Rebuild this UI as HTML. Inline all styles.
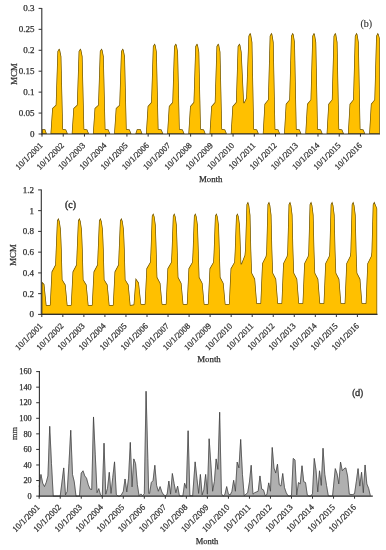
<!DOCTYPE html>
<html><head><meta charset="utf-8"><title>Charts</title>
<style>html,body{margin:0;padding:0;background:#fff}svg{display:block}</style>
</head><body>
<svg width="386" height="550" viewBox="0 0 386 550">
<rect width="386" height="550" fill="#fff"/>
<g font-family='"Liberation Serif", serif' stroke="#2e2e2e" stroke-width="0.25" paint-order="stroke">
<clipPath id="k1"><polygon points="42.00,134.00 42.00,129.19 45.20,129.19 46.90,134.00 50.50,134.00 52.20,108.25 55.70,104.90 57.45,51.15 59.15,48.59 60.05,50.04 61.35,56.53 63.05,129.06 66.05,129.60 67.90,134.00 71.70,134.00 73.40,108.25 76.90,104.90 78.65,51.15 80.35,48.59 81.25,50.04 82.55,56.53 84.25,129.06 87.25,129.60 89.10,134.00 92.90,134.00 94.60,108.25 98.10,104.90 99.85,51.15 101.55,48.59 102.45,50.04 103.75,56.53 105.45,129.06 108.45,129.60 110.30,134.00 114.10,134.00 115.80,108.25 119.30,104.90 121.05,51.15 122.75,48.59 123.65,50.04 124.95,56.53 126.65,129.06 129.65,129.60 131.50,134.00 135.30,134.00 136.90,129.19 140.70,129.19 142.50,134.00 145.95,134.00 147.65,106.37 151.15,102.18 152.90,46.28 154.60,43.57 155.50,45.11 156.80,51.98 158.50,129.06 161.50,129.60 163.35,134.00 167.15,134.00 168.85,106.37 172.35,102.18 174.10,46.28 175.80,43.57 176.70,45.11 178.00,51.98 179.70,129.06 182.70,129.60 184.55,134.00 188.35,134.00 190.05,106.37 193.55,102.18 195.30,46.28 197.00,43.57 197.90,45.11 199.20,51.98 200.90,129.06 203.90,129.60 205.75,134.00 209.55,134.00 211.25,106.37 214.75,102.18 216.50,46.28 218.20,43.57 219.10,45.11 220.40,51.98 222.10,129.06 225.10,129.60 226.95,134.00 230.75,134.00 232.45,106.37 235.95,102.18 237.70,46.28 239.40,43.57 240.30,45.11 241.60,51.98 244.00,102.60 246.20,97.99 248.45,35.88 250.15,32.85 251.05,34.57 252.35,42.26 254.05,129.06 257.05,129.60 258.90,134.00 262.78,134.00 264.48,104.07 267.98,99.67 269.73,35.88 271.43,32.85 272.33,34.57 273.63,42.26 275.33,129.06 278.33,129.60 280.18,134.00 284.06,134.00 285.76,104.07 289.26,99.67 291.01,35.88 292.71,32.85 293.61,34.57 294.91,42.26 296.61,129.06 299.61,129.60 301.46,134.00 305.34,134.00 307.04,104.07 310.54,99.67 312.29,35.88 313.99,32.85 314.89,34.57 316.19,42.26 317.89,129.06 320.89,129.60 322.74,134.00 326.62,134.00 328.32,104.07 331.82,99.67 333.57,35.88 335.27,32.85 336.17,34.57 337.47,42.26 339.17,129.06 342.17,129.60 344.02,134.00 347.90,134.00 349.60,104.07 353.10,99.67 354.85,35.88 356.55,32.85 357.45,34.57 358.75,42.26 360.45,129.06 363.45,129.60 365.30,134.00 369.18,134.00 370.88,104.07 374.38,99.67 376.13,35.88 377.83,32.85 378.73,34.57 379.75,38.13 379.75,134.00"/></clipPath>
<polygon points="42.00,134.00 42.00,129.19 45.20,129.19 46.90,134.00 50.50,134.00 52.20,108.25 55.70,104.90 57.45,51.15 59.15,48.59 60.05,50.04 61.35,56.53 63.05,129.06 66.05,129.60 67.90,134.00 71.70,134.00 73.40,108.25 76.90,104.90 78.65,51.15 80.35,48.59 81.25,50.04 82.55,56.53 84.25,129.06 87.25,129.60 89.10,134.00 92.90,134.00 94.60,108.25 98.10,104.90 99.85,51.15 101.55,48.59 102.45,50.04 103.75,56.53 105.45,129.06 108.45,129.60 110.30,134.00 114.10,134.00 115.80,108.25 119.30,104.90 121.05,51.15 122.75,48.59 123.65,50.04 124.95,56.53 126.65,129.06 129.65,129.60 131.50,134.00 135.30,134.00 136.90,129.19 140.70,129.19 142.50,134.00 145.95,134.00 147.65,106.37 151.15,102.18 152.90,46.28 154.60,43.57 155.50,45.11 156.80,51.98 158.50,129.06 161.50,129.60 163.35,134.00 167.15,134.00 168.85,106.37 172.35,102.18 174.10,46.28 175.80,43.57 176.70,45.11 178.00,51.98 179.70,129.06 182.70,129.60 184.55,134.00 188.35,134.00 190.05,106.37 193.55,102.18 195.30,46.28 197.00,43.57 197.90,45.11 199.20,51.98 200.90,129.06 203.90,129.60 205.75,134.00 209.55,134.00 211.25,106.37 214.75,102.18 216.50,46.28 218.20,43.57 219.10,45.11 220.40,51.98 222.10,129.06 225.10,129.60 226.95,134.00 230.75,134.00 232.45,106.37 235.95,102.18 237.70,46.28 239.40,43.57 240.30,45.11 241.60,51.98 244.00,102.60 246.20,97.99 248.45,35.88 250.15,32.85 251.05,34.57 252.35,42.26 254.05,129.06 257.05,129.60 258.90,134.00 262.78,134.00 264.48,104.07 267.98,99.67 269.73,35.88 271.43,32.85 272.33,34.57 273.63,42.26 275.33,129.06 278.33,129.60 280.18,134.00 284.06,134.00 285.76,104.07 289.26,99.67 291.01,35.88 292.71,32.85 293.61,34.57 294.91,42.26 296.61,129.06 299.61,129.60 301.46,134.00 305.34,134.00 307.04,104.07 310.54,99.67 312.29,35.88 313.99,32.85 314.89,34.57 316.19,42.26 317.89,129.06 320.89,129.60 322.74,134.00 326.62,134.00 328.32,104.07 331.82,99.67 333.57,35.88 335.27,32.85 336.17,34.57 337.47,42.26 339.17,129.06 342.17,129.60 344.02,134.00 347.90,134.00 349.60,104.07 353.10,99.67 354.85,35.88 356.55,32.85 357.45,34.57 358.75,42.26 360.45,129.06 363.45,129.60 365.30,134.00 369.18,134.00 370.88,104.07 374.38,99.67 376.13,35.88 377.83,32.85 378.73,34.57 379.75,38.13 379.75,134.00" fill="#FFC000" stroke="#6b5510" stroke-width="1.4" stroke-linejoin="round" paint-order="normal" clip-path="url(#k1)"/>
<path d="M41.80 7.90 V134.50" stroke="#303030" stroke-width="1.1" fill="none"/>
<path d="M41.50 134.00 H380.05" stroke="#303030" stroke-width="1.1" fill="none"/>
<path d="M38.60 134.00H41.80M38.60 113.07H41.80M38.60 92.13H41.80M38.60 71.20H41.80M38.60 50.27H41.80M38.60 29.33H41.80M38.60 8.40H41.80M42.00 134.00V136.60M63.23 134.00V136.60M84.46 134.00V136.60M105.69 134.00V136.60M126.92 134.00V136.60M148.15 134.00V136.60M169.38 134.00V136.60M190.61 134.00V136.60M211.84 134.00V136.60M233.07 134.00V136.60M254.30 134.00V136.60M275.53 134.00V136.60M296.76 134.00V136.60M317.99 134.00V136.60M339.22 134.00V136.60M360.45 134.00V136.60" stroke="#303030" stroke-width="1" fill="none"/>
<text x="34.40" y="136.97" font-size="9" text-anchor="end" fill="#2e2e2e">0</text>
<text x="34.40" y="116.04" font-size="9" text-anchor="end" fill="#2e2e2e">0.05</text>
<text x="34.40" y="95.10" font-size="9" text-anchor="end" fill="#2e2e2e">0.1</text>
<text x="34.40" y="74.17" font-size="9" text-anchor="end" fill="#2e2e2e">0.15</text>
<text x="34.40" y="53.24" font-size="9" text-anchor="end" fill="#2e2e2e">0.2</text>
<text x="34.40" y="32.30" font-size="9" text-anchor="end" fill="#2e2e2e">0.25</text>
<text x="34.40" y="11.37" font-size="9" text-anchor="end" fill="#2e2e2e">0.3</text>
<text transform="translate(43.20 145.90) rotate(-45)" font-size="8.5" text-anchor="end" fill="#2e2e2e">10/1/2001</text>
<text transform="translate(64.48 145.90) rotate(-45)" font-size="8.5" text-anchor="end" fill="#2e2e2e">10/1/2002</text>
<text transform="translate(85.77 145.90) rotate(-45)" font-size="8.5" text-anchor="end" fill="#2e2e2e">10/1/2003</text>
<text transform="translate(107.06 145.90) rotate(-45)" font-size="8.5" text-anchor="end" fill="#2e2e2e">10/1/2004</text>
<text transform="translate(128.34 145.90) rotate(-45)" font-size="8.5" text-anchor="end" fill="#2e2e2e">10/1/2005</text>
<text transform="translate(149.62 145.90) rotate(-45)" font-size="8.5" text-anchor="end" fill="#2e2e2e">10/1/2006</text>
<text transform="translate(170.91 145.90) rotate(-45)" font-size="8.5" text-anchor="end" fill="#2e2e2e">10/1/2007</text>
<text transform="translate(192.19 145.90) rotate(-45)" font-size="8.5" text-anchor="end" fill="#2e2e2e">10/1/2008</text>
<text transform="translate(213.48 145.90) rotate(-45)" font-size="8.5" text-anchor="end" fill="#2e2e2e">10/1/2009</text>
<text transform="translate(234.76 145.90) rotate(-45)" font-size="8.5" text-anchor="end" fill="#2e2e2e">10/1/2010</text>
<text transform="translate(256.05 145.90) rotate(-45)" font-size="8.5" text-anchor="end" fill="#2e2e2e">10/1/2011</text>
<text transform="translate(277.33 145.90) rotate(-45)" font-size="8.5" text-anchor="end" fill="#2e2e2e">10/1/2012</text>
<text transform="translate(298.62 145.90) rotate(-45)" font-size="8.5" text-anchor="end" fill="#2e2e2e">10/1/2013</text>
<text transform="translate(319.90 145.90) rotate(-45)" font-size="8.5" text-anchor="end" fill="#2e2e2e">10/1/2014</text>
<text transform="translate(341.19 145.90) rotate(-45)" font-size="8.5" text-anchor="end" fill="#2e2e2e">10/1/2015</text>
<text transform="translate(362.47 145.90) rotate(-45)" font-size="8.5" text-anchor="end" fill="#2e2e2e">10/1/2016</text>
<text x="210.7" y="182.2" font-size="8.8" text-anchor="middle" fill="#2e2e2e">Month</text>
<text transform="translate(16.6 73.9) rotate(-90)" font-size="8.8" text-anchor="middle" fill="#2e2e2e">MCM</text>
<text x="366.3" y="26.7" font-size="10" text-anchor="middle" fill="#2e2e2e" stroke-width="0.1">(b)</text>
<clipPath id="k2"><polygon points="41.80,314.40 41.80,281.51 44.40,284.31 46.50,305.06 49.90,305.06 51.55,271.86 55.20,264.81 55.70,252.15 57.00,220.62 58.50,218.12 59.70,221.49 60.90,229.67 61.70,250.07 62.50,279.64 65.60,284.83 67.50,305.06 70.90,305.06 72.55,271.86 76.20,264.81 76.70,252.15 78.00,220.62 79.50,218.12 80.70,221.49 81.90,229.67 82.70,250.07 83.50,279.64 86.60,284.83 88.50,305.06 91.90,305.06 93.55,271.86 97.20,264.81 97.70,252.15 99.00,220.62 100.50,218.12 101.70,221.49 102.90,229.67 103.70,250.07 104.50,279.64 107.60,284.83 109.50,305.06 112.90,305.06 114.55,271.86 118.20,264.81 118.70,252.15 120.00,220.62 121.50,218.12 122.70,221.49 123.90,229.67 124.70,250.07 125.50,279.64 128.60,284.83 130.50,305.06 133.60,304.54 135.60,278.09 138.90,282.76 141.20,304.02 144.75,304.02 146.40,268.54 150.05,262.21 150.55,252.15 151.85,215.77 153.35,213.14 154.55,216.68 155.75,225.29 156.55,250.07 157.35,277.36 160.45,283.27 162.35,304.02 165.80,304.02 167.45,268.54 171.10,262.21 171.60,252.15 172.90,215.77 174.40,213.14 175.60,216.68 176.80,225.29 177.60,250.07 178.40,277.36 181.50,283.27 183.40,304.02 186.85,304.02 188.50,268.54 192.15,262.21 192.65,252.15 193.95,215.77 195.45,213.14 196.65,216.68 197.85,225.29 198.65,250.07 199.45,277.36 202.55,283.27 204.45,304.02 207.90,304.02 209.55,268.54 213.20,262.21 213.70,252.15 215.00,215.77 216.50,213.14 217.70,216.68 218.90,225.29 219.70,250.07 220.50,277.36 223.60,283.27 225.50,304.02 228.95,304.02 230.60,268.54 234.25,262.21 234.75,252.15 236.05,215.77 237.55,213.14 238.75,216.68 239.95,225.29 241.30,263.87 244.60,255.26 245.20,248.00 246.50,204.45 248.00,201.52 249.20,205.47 250.40,215.07 251.20,250.07 252.00,272.90 255.10,279.12 257.00,303.19 260.45,303.19 262.10,263.56 265.75,256.30 266.25,252.15 267.55,204.45 269.05,201.52 270.25,205.47 271.45,215.07 272.25,250.07 273.05,272.90 276.15,279.12 278.05,303.19 281.50,303.19 283.15,263.56 286.80,256.30 287.30,252.15 288.60,204.45 290.10,201.52 291.30,205.47 292.50,215.07 293.30,250.07 294.10,272.90 297.20,279.12 299.10,303.19 302.55,303.19 304.20,263.56 307.85,256.30 308.35,252.15 309.65,204.45 311.15,201.52 312.35,205.47 313.55,215.07 314.35,250.07 315.15,272.90 318.25,279.12 320.15,303.19 323.60,303.19 325.25,263.56 328.90,256.30 329.40,252.15 330.70,204.45 332.20,201.52 333.40,205.47 334.60,215.07 335.40,250.07 336.20,272.90 339.30,279.12 341.20,303.19 344.65,303.19 346.30,263.56 349.95,256.30 350.45,252.15 351.75,204.45 353.25,201.52 354.45,205.47 355.65,215.07 356.45,250.07 357.25,272.90 360.35,279.12 362.25,303.19 365.70,303.19 367.35,263.56 371.00,256.30 371.50,252.15 372.80,204.45 374.30,201.52 377.20,208.57 377.20,314.40"/></clipPath>
<polygon points="41.80,314.40 41.80,281.51 44.40,284.31 46.50,305.06 49.90,305.06 51.55,271.86 55.20,264.81 55.70,252.15 57.00,220.62 58.50,218.12 59.70,221.49 60.90,229.67 61.70,250.07 62.50,279.64 65.60,284.83 67.50,305.06 70.90,305.06 72.55,271.86 76.20,264.81 76.70,252.15 78.00,220.62 79.50,218.12 80.70,221.49 81.90,229.67 82.70,250.07 83.50,279.64 86.60,284.83 88.50,305.06 91.90,305.06 93.55,271.86 97.20,264.81 97.70,252.15 99.00,220.62 100.50,218.12 101.70,221.49 102.90,229.67 103.70,250.07 104.50,279.64 107.60,284.83 109.50,305.06 112.90,305.06 114.55,271.86 118.20,264.81 118.70,252.15 120.00,220.62 121.50,218.12 122.70,221.49 123.90,229.67 124.70,250.07 125.50,279.64 128.60,284.83 130.50,305.06 133.60,304.54 135.60,278.09 138.90,282.76 141.20,304.02 144.75,304.02 146.40,268.54 150.05,262.21 150.55,252.15 151.85,215.77 153.35,213.14 154.55,216.68 155.75,225.29 156.55,250.07 157.35,277.36 160.45,283.27 162.35,304.02 165.80,304.02 167.45,268.54 171.10,262.21 171.60,252.15 172.90,215.77 174.40,213.14 175.60,216.68 176.80,225.29 177.60,250.07 178.40,277.36 181.50,283.27 183.40,304.02 186.85,304.02 188.50,268.54 192.15,262.21 192.65,252.15 193.95,215.77 195.45,213.14 196.65,216.68 197.85,225.29 198.65,250.07 199.45,277.36 202.55,283.27 204.45,304.02 207.90,304.02 209.55,268.54 213.20,262.21 213.70,252.15 215.00,215.77 216.50,213.14 217.70,216.68 218.90,225.29 219.70,250.07 220.50,277.36 223.60,283.27 225.50,304.02 228.95,304.02 230.60,268.54 234.25,262.21 234.75,252.15 236.05,215.77 237.55,213.14 238.75,216.68 239.95,225.29 241.30,263.87 244.60,255.26 245.20,248.00 246.50,204.45 248.00,201.52 249.20,205.47 250.40,215.07 251.20,250.07 252.00,272.90 255.10,279.12 257.00,303.19 260.45,303.19 262.10,263.56 265.75,256.30 266.25,252.15 267.55,204.45 269.05,201.52 270.25,205.47 271.45,215.07 272.25,250.07 273.05,272.90 276.15,279.12 278.05,303.19 281.50,303.19 283.15,263.56 286.80,256.30 287.30,252.15 288.60,204.45 290.10,201.52 291.30,205.47 292.50,215.07 293.30,250.07 294.10,272.90 297.20,279.12 299.10,303.19 302.55,303.19 304.20,263.56 307.85,256.30 308.35,252.15 309.65,204.45 311.15,201.52 312.35,205.47 313.55,215.07 314.35,250.07 315.15,272.90 318.25,279.12 320.15,303.19 323.60,303.19 325.25,263.56 328.90,256.30 329.40,252.15 330.70,204.45 332.20,201.52 333.40,205.47 334.60,215.07 335.40,250.07 336.20,272.90 339.30,279.12 341.20,303.19 344.65,303.19 346.30,263.56 349.95,256.30 350.45,252.15 351.75,204.45 353.25,201.52 354.45,205.47 355.65,215.07 356.45,250.07 357.25,272.90 360.35,279.12 362.25,303.19 365.70,303.19 367.35,263.56 371.00,256.30 371.50,252.15 372.80,204.45 374.30,201.52 377.20,208.57 377.20,314.40" fill="#FFC000" stroke="#6b5510" stroke-width="1.4" stroke-linejoin="round" paint-order="normal" clip-path="url(#k2)"/>
<path d="M41.30 189.40 V314.90" stroke="#303030" stroke-width="1.1" fill="none"/>
<path d="M41.30 314.40 H377.50" stroke="#303030" stroke-width="1.1" fill="none"/>
<path d="M38.10 314.40H41.30M38.10 293.65H41.30M38.10 272.90H41.30M38.10 252.15H41.30M38.10 231.40H41.30M38.10 210.65H41.30M38.10 189.90H41.30M41.80 314.40V317.00M62.84 314.40V317.00M83.88 314.40V317.00M104.92 314.40V317.00M125.96 314.40V317.00M147.00 314.40V317.00M168.04 314.40V317.00M189.08 314.40V317.00M210.12 314.40V317.00M231.16 314.40V317.00M252.20 314.40V317.00M273.24 314.40V317.00M294.28 314.40V317.00M315.32 314.40V317.00M336.36 314.40V317.00M357.40 314.40V317.00" stroke="#303030" stroke-width="1" fill="none"/>
<text x="34.00" y="317.37" font-size="9" text-anchor="end" fill="#2e2e2e">0</text>
<text x="34.00" y="296.62" font-size="9" text-anchor="end" fill="#2e2e2e">0.2</text>
<text x="34.00" y="275.87" font-size="9" text-anchor="end" fill="#2e2e2e">0.4</text>
<text x="34.00" y="255.12" font-size="9" text-anchor="end" fill="#2e2e2e">0.6</text>
<text x="34.00" y="234.37" font-size="9" text-anchor="end" fill="#2e2e2e">0.8</text>
<text x="34.00" y="213.62" font-size="9" text-anchor="end" fill="#2e2e2e">1</text>
<text x="34.00" y="192.87" font-size="9" text-anchor="end" fill="#2e2e2e">1.2</text>
<text transform="translate(43.00 326.40) rotate(-45)" font-size="8.5" text-anchor="end" fill="#2e2e2e">10/1/2001</text>
<text transform="translate(64.09 326.40) rotate(-45)" font-size="8.5" text-anchor="end" fill="#2e2e2e">10/1/2002</text>
<text transform="translate(85.19 326.40) rotate(-45)" font-size="8.5" text-anchor="end" fill="#2e2e2e">10/1/2003</text>
<text transform="translate(106.28 326.40) rotate(-45)" font-size="8.5" text-anchor="end" fill="#2e2e2e">10/1/2004</text>
<text transform="translate(127.38 326.40) rotate(-45)" font-size="8.5" text-anchor="end" fill="#2e2e2e">10/1/2005</text>
<text transform="translate(148.47 326.40) rotate(-45)" font-size="8.5" text-anchor="end" fill="#2e2e2e">10/1/2006</text>
<text transform="translate(169.57 326.40) rotate(-45)" font-size="8.5" text-anchor="end" fill="#2e2e2e">10/1/2007</text>
<text transform="translate(190.66 326.40) rotate(-45)" font-size="8.5" text-anchor="end" fill="#2e2e2e">10/1/2008</text>
<text transform="translate(211.76 326.40) rotate(-45)" font-size="8.5" text-anchor="end" fill="#2e2e2e">10/1/2009</text>
<text transform="translate(232.85 326.40) rotate(-45)" font-size="8.5" text-anchor="end" fill="#2e2e2e">10/1/2010</text>
<text transform="translate(253.95 326.40) rotate(-45)" font-size="8.5" text-anchor="end" fill="#2e2e2e">10/1/2011</text>
<text transform="translate(275.04 326.40) rotate(-45)" font-size="8.5" text-anchor="end" fill="#2e2e2e">10/1/2012</text>
<text transform="translate(296.14 326.40) rotate(-45)" font-size="8.5" text-anchor="end" fill="#2e2e2e">10/1/2013</text>
<text transform="translate(317.24 326.40) rotate(-45)" font-size="8.5" text-anchor="end" fill="#2e2e2e">10/1/2014</text>
<text transform="translate(338.33 326.40) rotate(-45)" font-size="8.5" text-anchor="end" fill="#2e2e2e">10/1/2015</text>
<text transform="translate(359.42 326.40) rotate(-45)" font-size="8.5" text-anchor="end" fill="#2e2e2e">10/1/2016</text>
<text x="209" y="361.6" font-size="8.8" text-anchor="middle" fill="#2e2e2e">Month</text>
<text transform="translate(16 255) rotate(-90)" font-size="8.8" text-anchor="middle" fill="#2e2e2e">MCM</text>
<text x="70.5" y="207.6" font-size="9.8" text-anchor="middle" fill="#2e2e2e" stroke-width="0.4">(c)</text>
<polygon points="39.20,496.10 39.20,486.76 40.95,474.47 42.70,483.26 44.46,486.61 46.21,482.56 47.96,475.95 49.71,426.30 51.46,463.42 53.22,496.10 54.97,496.10 56.72,496.10 58.47,496.10 60.22,496.10 61.98,482.09 63.73,467.93 65.48,494.93 67.23,491.43 68.98,463.42 70.74,430.27 72.49,474.47 74.24,481.78 75.99,496.10 77.74,496.10 79.50,496.10 81.25,473.07 83.00,470.81 84.75,475.95 86.50,478.20 88.26,484.74 90.01,489.10 91.76,489.56 93.51,416.96 95.26,454.86 97.02,492.75 98.77,488.63 100.52,494.93 102.27,496.10 104.02,443.19 105.78,494.23 107.53,488.32 109.28,472.29 111.03,493.45 112.78,477.43 114.54,461.86 116.29,494.54 118.04,496.10 119.79,496.10 121.54,494.54 123.30,491.43 125.05,478.98 126.80,491.98 128.55,478.20 130.30,442.41 132.06,486.92 133.81,458.91 135.56,463.57 137.31,484.43 139.06,495.71 140.82,493.92 142.57,495.71 144.32,493.77 146.07,391.29 147.82,458.75 148.70,493.45 149.58,493.45 151.33,482.56 153.08,480.54 154.83,465.29 156.58,485.44 158.34,491.28 160.09,486.61 161.84,491.98 163.59,494.93 165.34,495.71 167.10,494.54 168.85,481.08 170.60,494.23 172.35,473.53 174.10,483.65 175.86,492.75 177.61,486.14 179.36,495.71 181.11,496.10 182.86,496.10 184.62,483.26 186.37,488.32 188.12,430.74 189.87,495.71 191.62,495.71 192.68,495.87 195.13,461.86 196.88,478.20 198.63,493.45 200.38,474.47 202.14,494.93 203.89,489.88 205.64,474.47 207.39,494.23 209.14,438.75 210.90,464.98 212.65,491.28 214.40,481.32 216.15,458.91 217.90,469.41 219.66,412.22 221.41,493.77 223.16,496.10 224.91,494.54 226.66,486.61 228.42,494.23 230.17,494.93 231.92,491.43 233.67,480.30 235.42,491.28 237.18,462.10 238.93,467.93 240.68,439.45 242.43,474.31 244.18,495.71 245.94,494.23 247.69,492.75 249.44,482.09 251.19,465.29 252.94,494.23 254.70,492.75 256.45,491.98 258.20,491.28 259.95,475.95 261.70,489.10 263.46,489.88 265.21,495.71 266.96,494.54 268.71,482.87 270.46,491.28 272.22,447.47 273.97,468.09 275.72,473.07 277.47,464.20 279.22,484.74 280.98,486.14 282.73,473.53 284.48,487.62 286.23,492.75 287.98,495.71 289.74,496.10 291.49,495.32 293.24,458.44 294.99,459.92 296.74,494.93 298.50,482.56 300.25,483.96 302.00,465.75 303.75,481.78 305.50,482.56 307.26,494.93 309.01,496.10 310.76,496.10 312.51,493.77 314.26,458.44 316.02,470.42 317.77,491.98 319.52,470.81 321.27,485.44 323.02,448.25 324.78,474.31 326.53,485.44 328.28,495.71 330.03,496.10 331.78,496.10 332.57,495.94 335.29,468.63 337.04,473.77 338.79,483.96 340.54,462.10 342.30,470.81 344.05,468.63 345.80,467.93 347.55,475.95 349.30,494.23 351.06,494.54 352.81,494.54 354.56,493.77 356.31,481.78 358.06,468.63 359.82,486.14 361.57,472.29 363.32,492.75 365.07,464.98 366.82,483.96 368.58,488.32 370.33,495.71 370.33,496.10" fill="#B0B0B0"/>
<polyline points="39.20,486.76 40.95,474.47 42.70,483.26 44.46,486.61 46.21,482.56 47.96,475.95 49.71,426.30 51.46,463.42 53.22,496.10 54.97,496.10 56.72,496.10 58.47,496.10 60.22,496.10 61.98,482.09 63.73,467.93 65.48,494.93 67.23,491.43 68.98,463.42 70.74,430.27 72.49,474.47 74.24,481.78 75.99,496.10 77.74,496.10 79.50,496.10 81.25,473.07 83.00,470.81 84.75,475.95 86.50,478.20 88.26,484.74 90.01,489.10 91.76,489.56 93.51,416.96 95.26,454.86 97.02,492.75 98.77,488.63 100.52,494.93 102.27,496.10 104.02,443.19 105.78,494.23 107.53,488.32 109.28,472.29 111.03,493.45 112.78,477.43 114.54,461.86 116.29,494.54 118.04,496.10 119.79,496.10 121.54,494.54 123.30,491.43 125.05,478.98 126.80,491.98 128.55,478.20 130.30,442.41 132.06,486.92 133.81,458.91 135.56,463.57 137.31,484.43 139.06,495.71 140.82,493.92 142.57,495.71 144.32,493.77 146.07,391.29 147.82,458.75 148.70,493.45 149.58,493.45 151.33,482.56 153.08,480.54 154.83,465.29 156.58,485.44 158.34,491.28 160.09,486.61 161.84,491.98 163.59,494.93 165.34,495.71 167.10,494.54 168.85,481.08 170.60,494.23 172.35,473.53 174.10,483.65 175.86,492.75 177.61,486.14 179.36,495.71 181.11,496.10 182.86,496.10 184.62,483.26 186.37,488.32 188.12,430.74 189.87,495.71 191.62,495.71 192.68,495.87 195.13,461.86 196.88,478.20 198.63,493.45 200.38,474.47 202.14,494.93 203.89,489.88 205.64,474.47 207.39,494.23 209.14,438.75 210.90,464.98 212.65,491.28 214.40,481.32 216.15,458.91 217.90,469.41 219.66,412.22 221.41,493.77 223.16,496.10 224.91,494.54 226.66,486.61 228.42,494.23 230.17,494.93 231.92,491.43 233.67,480.30 235.42,491.28 237.18,462.10 238.93,467.93 240.68,439.45 242.43,474.31 244.18,495.71 245.94,494.23 247.69,492.75 249.44,482.09 251.19,465.29 252.94,494.23 254.70,492.75 256.45,491.98 258.20,491.28 259.95,475.95 261.70,489.10 263.46,489.88 265.21,495.71 266.96,494.54 268.71,482.87 270.46,491.28 272.22,447.47 273.97,468.09 275.72,473.07 277.47,464.20 279.22,484.74 280.98,486.14 282.73,473.53 284.48,487.62 286.23,492.75 287.98,495.71 289.74,496.10 291.49,495.32 293.24,458.44 294.99,459.92 296.74,494.93 298.50,482.56 300.25,483.96 302.00,465.75 303.75,481.78 305.50,482.56 307.26,494.93 309.01,496.10 310.76,496.10 312.51,493.77 314.26,458.44 316.02,470.42 317.77,491.98 319.52,470.81 321.27,485.44 323.02,448.25 324.78,474.31 326.53,485.44 328.28,495.71 330.03,496.10 331.78,496.10 332.57,495.94 335.29,468.63 337.04,473.77 338.79,483.96 340.54,462.10 342.30,470.81 344.05,468.63 345.80,467.93 347.55,475.95 349.30,494.23 351.06,494.54 352.81,494.54 354.56,493.77 356.31,481.78 358.06,468.63 359.82,486.14 361.57,472.29 363.32,492.75 365.07,464.98 366.82,483.96 368.58,488.32 370.33,495.71" fill="none" stroke="#3d3d3d" stroke-width="0.72" stroke-linejoin="round"/>
<path d="M39.40 371.10 V496.60" stroke="#303030" stroke-width="1.1" fill="none"/>
<path d="M38.70 496.10 H372.80" stroke="#303030" stroke-width="1.1" fill="none"/>
<path d="M36.20 496.10H39.40M36.20 480.54H39.40M36.20 464.98H39.40M36.20 449.41H39.40M36.20 433.85H39.40M36.20 418.29H39.40M36.20 402.73H39.40M36.20 387.16H39.40M36.20 371.60H39.40M39.20 496.10V498.70M60.22 496.10V498.70M81.25 496.10V498.70M102.27 496.10V498.70M123.30 496.10V498.70M144.32 496.10V498.70M165.34 496.10V498.70M186.37 496.10V498.70M207.39 496.10V498.70M228.42 496.10V498.70M249.44 496.10V498.70M270.46 496.10V498.70M291.49 496.10V498.70M312.51 496.10V498.70M333.54 496.10V498.70M354.56 496.10V498.70" stroke="#303030" stroke-width="1" fill="none"/>
<text x="31.70" y="498.84" font-size="8.3" text-anchor="end" fill="#2e2e2e">0</text>
<text x="31.70" y="483.28" font-size="8.3" text-anchor="end" fill="#2e2e2e">20</text>
<text x="31.70" y="467.71" font-size="8.3" text-anchor="end" fill="#2e2e2e">40</text>
<text x="31.70" y="452.15" font-size="8.3" text-anchor="end" fill="#2e2e2e">60</text>
<text x="31.70" y="436.59" font-size="8.3" text-anchor="end" fill="#2e2e2e">80</text>
<text x="31.70" y="421.03" font-size="8.3" text-anchor="end" fill="#2e2e2e">100</text>
<text x="31.70" y="405.46" font-size="8.3" text-anchor="end" fill="#2e2e2e">120</text>
<text x="31.70" y="389.90" font-size="8.3" text-anchor="end" fill="#2e2e2e">140</text>
<text x="31.70" y="374.34" font-size="8.3" text-anchor="end" fill="#2e2e2e">160</text>
<text transform="translate(40.40 507.80) rotate(-45)" font-size="8.6" text-anchor="end" fill="#2e2e2e">10/1/2001</text>
<text transform="translate(61.48 507.80) rotate(-45)" font-size="8.6" text-anchor="end" fill="#2e2e2e">10/1/2002</text>
<text transform="translate(82.56 507.80) rotate(-45)" font-size="8.6" text-anchor="end" fill="#2e2e2e">10/1/2003</text>
<text transform="translate(103.64 507.80) rotate(-45)" font-size="8.6" text-anchor="end" fill="#2e2e2e">10/1/2004</text>
<text transform="translate(124.72 507.80) rotate(-45)" font-size="8.6" text-anchor="end" fill="#2e2e2e">10/1/2005</text>
<text transform="translate(145.80 507.80) rotate(-45)" font-size="8.6" text-anchor="end" fill="#2e2e2e">10/1/2006</text>
<text transform="translate(166.87 507.80) rotate(-45)" font-size="8.6" text-anchor="end" fill="#2e2e2e">10/1/2007</text>
<text transform="translate(187.95 507.80) rotate(-45)" font-size="8.6" text-anchor="end" fill="#2e2e2e">10/1/2008</text>
<text transform="translate(209.03 507.80) rotate(-45)" font-size="8.6" text-anchor="end" fill="#2e2e2e">10/1/2009</text>
<text transform="translate(230.11 507.80) rotate(-45)" font-size="8.6" text-anchor="end" fill="#2e2e2e">10/1/2010</text>
<text transform="translate(251.19 507.80) rotate(-45)" font-size="8.6" text-anchor="end" fill="#2e2e2e">10/1/2011</text>
<text transform="translate(272.27 507.80) rotate(-45)" font-size="8.6" text-anchor="end" fill="#2e2e2e">10/1/2012</text>
<text transform="translate(293.35 507.80) rotate(-45)" font-size="8.6" text-anchor="end" fill="#2e2e2e">10/1/2013</text>
<text transform="translate(314.43 507.80) rotate(-45)" font-size="8.6" text-anchor="end" fill="#2e2e2e">10/1/2014</text>
<text transform="translate(335.51 507.80) rotate(-45)" font-size="8.6" text-anchor="end" fill="#2e2e2e">10/1/2015</text>
<text transform="translate(356.58 507.80) rotate(-45)" font-size="8.6" text-anchor="end" fill="#2e2e2e">10/1/2016</text>
<text x="207" y="543.7" font-size="8.5" text-anchor="middle" fill="#2e2e2e">Month</text>
<text transform="translate(16.5 433.5) rotate(-90)" font-size="8.3" text-anchor="middle" fill="#2e2e2e">mm</text>
</g>
<text x="357.6" y="396.1" font-size="9.3" text-anchor="middle" fill="#2e2e2e" stroke="#2e2e2e" stroke-width="0.32" font-family='"Liberation Sans", sans-serif'>(d)</text>
</svg>
</body></html>
